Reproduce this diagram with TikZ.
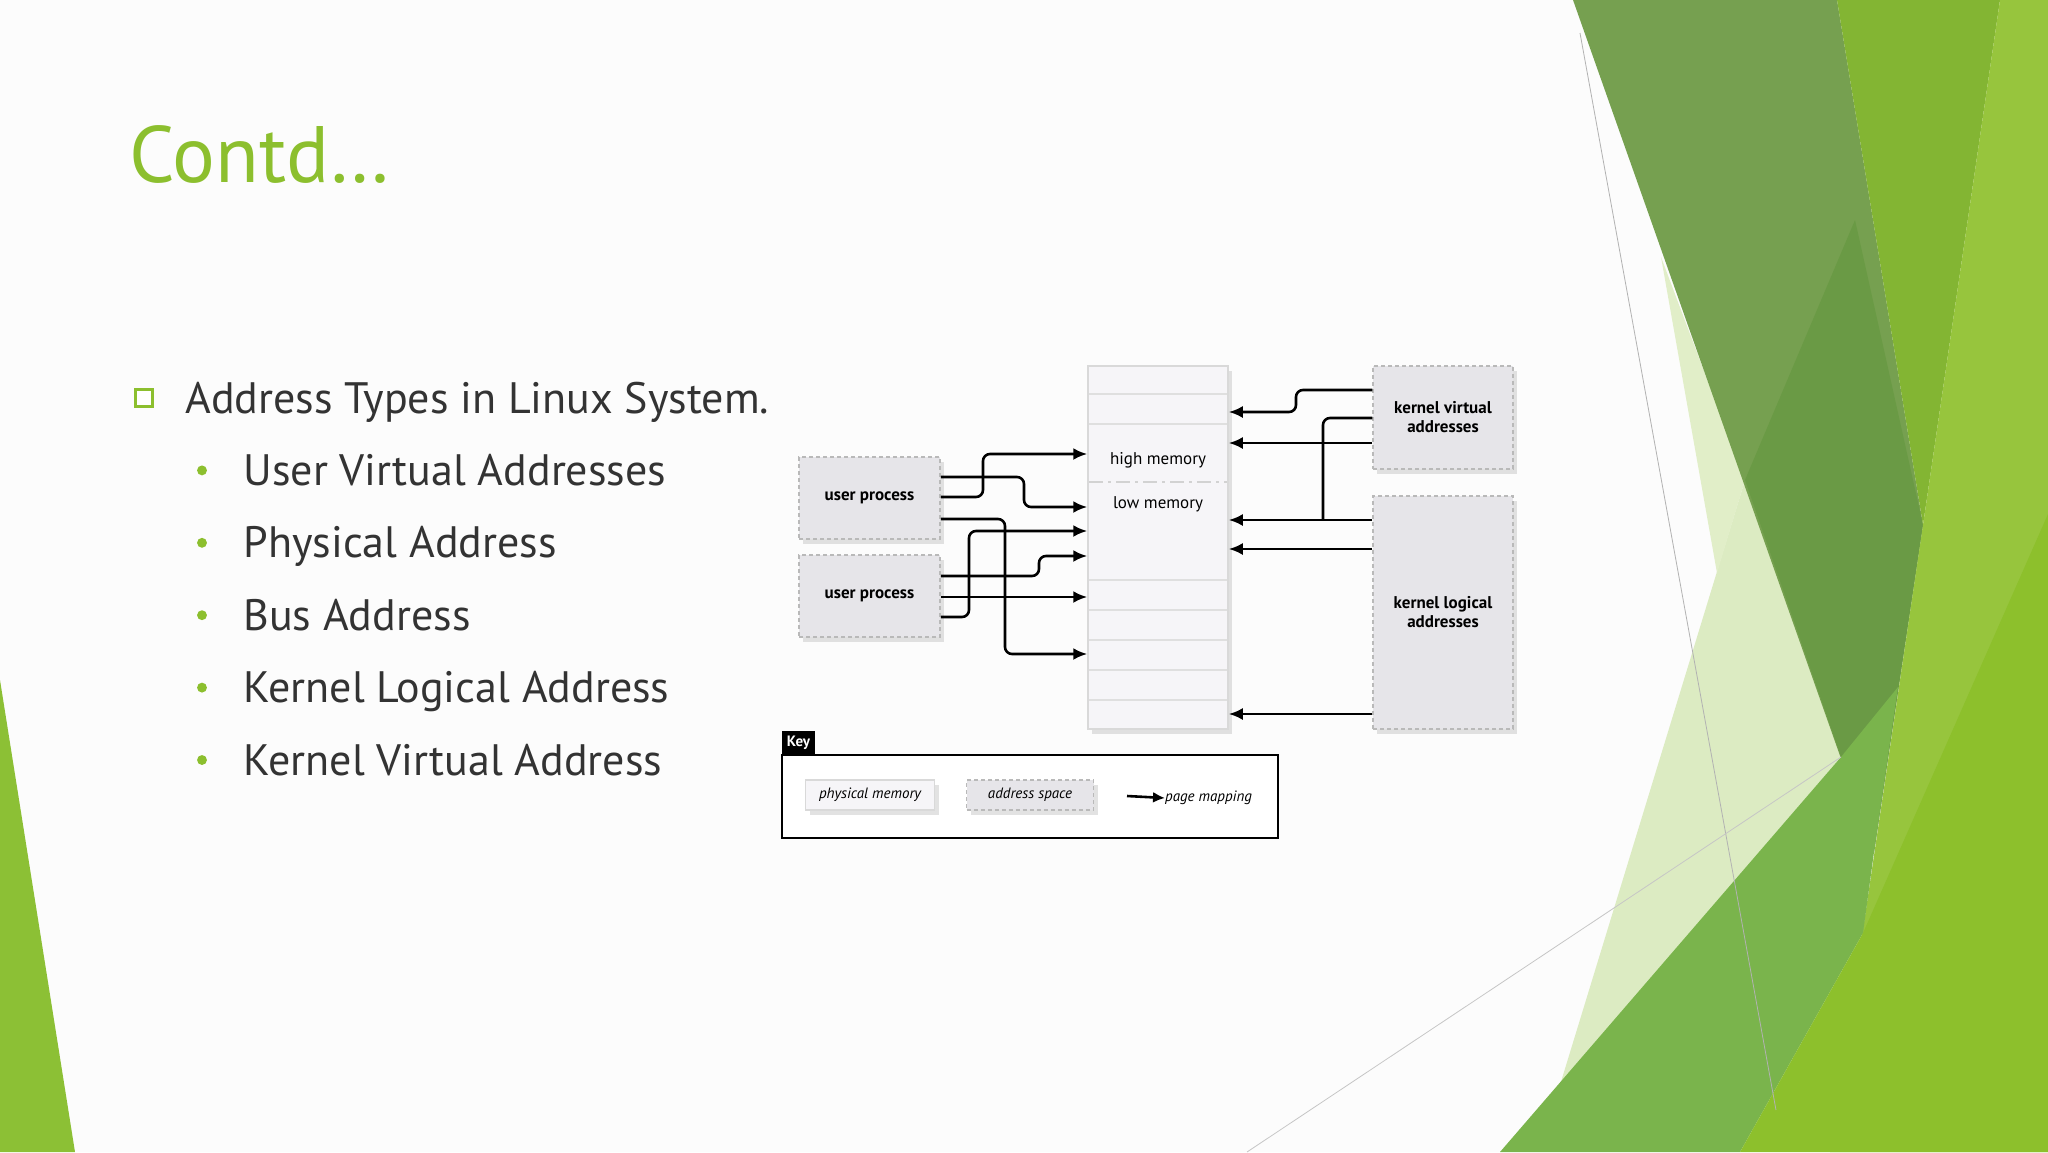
\documentclass[tikz,border=0pt]{standalone}
\usepackage{fontspec}
\setmainfont{PT Sans}
\usetikzlibrary{positioning, arrows.meta, shadows}
\definecolor{slidegreen}{HTML}{8CBF2E}
\definecolor{boxgray}{HTML}{E6E5E9}
\definecolor{memgray}{HTML}{F6F5F8}
\tikzset{
 physmem/.style={draw=gray!30, fill=memgray, line width=1.5pt,
   drop shadow={shadow xshift=4pt, shadow yshift=-5pt, fill=gray!45}},
 addrspace/.style={draw=gray!55, dashed, fill=boxgray, line width=1.5pt,
   dash pattern=on 4pt off 3pt,
   drop shadow={shadow xshift=4pt, shadow yshift=-5pt, fill=gray!45},
   font=\bfseries\fontsize{17}{19}\selectfont, align=center, inner sep=0pt},
 map/.style={line width=2.6pt, -{Latex[length=14pt,width=12pt]}, rounded corners=7pt},
 bullettext/.style={anchor=base west, font=\fontsize{44}{50}\selectfont, text=black!80},
}
\begin{document}
\begin{tikzpicture}[x=1pt, y=-1pt]
\useasboundingbox (0,0) rectangle (2048,1152);
\fill[white!98!gray] (0,0) rectangle (2048,1152);

% background shapes
\fill[color={rgb,255:red,140;green,192;blue,53}] (0,680) -- (0,1152) -- (75,1152) -- cycle;
\fill[color={rgb,255:red,220;green,235;blue,194}] (1560,1085) -- (1745,480) -- (1841,757) -- cycle;
\fill[color={rgb,255:red,225;green,238;blue,200}] (1661,257) -- (1717,573) -- (1745,480) -- cycle;
\fill[color={rgb,255:red,118;green,160;blue,80}] (1573,0) -- (1837,0) -- (1923,525) -- (1874,852) -- cycle;
\fill[color={rgb,255:red,106;green,154;blue,69}] (1745,480) -- (1855,220) -- (1923,525) -- (1874,852) -- cycle;
\fill[color={rgb,255:red,131;green,181;blue,51}] (1837,0) -- (2000,0) -- (1923,525) -- cycle;
\fill[color={rgb,255:red,151;green,197;blue,61}] (2000,0) -- (2048,0) -- (2048,1152) -- (1830,1152) -- (1923,525) -- cycle;
\fill[color={rgb,255:red,122;green,180;blue,76}] (1500,1152) -- (1841,757) -- (1898,687) -- (1874,852) -- (1863,933) -- (1740,1152) -- cycle;
\fill[color={rgb,255:red,141;green,192;blue,44}] (1740,1152) -- (1863,933) -- (2048,514) -- (2048,1152) -- cycle;
\draw[gray!60, line width=0.8pt] (1580,33) -- (1776,1110);
\draw[gray!45, line width=0.8pt] (1247,1152) -- (1841,757);

% slide text
\node[anchor=base west, text=slidegreen, font=\fontsize{80}{92}\selectfont] (title) at (126,182) {Contd…};
\node[draw=slidegreen, fill=white, line width=3pt, minimum size=17pt, inner sep=0pt] (sq) at (144,398) {};
\node[bullettext] (b0) at (182,413) {Address Types in Linux System.};
\foreach \t [count=\i] in {User Virtual Addresses, Physical Address, Bus Address,
  Kernel Logical Address, Kernel Virtual Address}{
  \node[circle, fill=slidegreen, inner sep=3.5pt] (d\i) at (202,398+72.4*\i) {};
  \node[bullettext] (s\i) at (240,413+72.4*\i) {\t};
}

% memory column
\node[physmem, minimum width=140pt, minimum height=363pt, inner sep=0pt] (mem) at (1158,547.5) {};
\foreach \y in {394,424,580,610,640,670,700}
  \draw[gray!25, line width=2pt] (1089,\y) -- (1227,\y);
\draw[gray!35, line width=2pt, dash pattern=on 14pt off 5pt on 3pt off 5pt] (1089,482) -- (1227,482);
\node[font=\fontsize{17}{19}\selectfont] (hi) at (1158,460) {high memory};
\node[font=\fontsize{17}{19}\selectfont] (lo) at (1158,504) {low memory};

% address spaces
\node[addrspace, minimum width=141pt, minimum height=82pt] (up1) at (869.5,498) {user process};
\node[addrspace, minimum width=141pt, minimum height=82pt] (up2) at (869.5,596) {user process};
\node[addrspace, minimum width=140pt, minimum height=103pt] (kv) at (1443,417.5) {kernel virtual\\addresses};
\node[addrspace, minimum width=140pt, minimum height=233pt] (kl) at (1443,612.5) {kernel logical\\addresses};

% user mappings
\draw[map] (up1.east |- 0,497) -- (983,497) -- (983,454) -- (mem.west |- 0,454);
\draw[map] (up1.east |- 0,477) -- (1024,477) -- (1024,507) -- (mem.west |- 0,507);
\draw[map] (up1.east |- 0,519) -- (1005,519) -- (1005,654) -- (mem.west |- 0,654);
\draw[map] (up2.east |- 0,617) -- (969,617) -- (969,531) -- (mem.west |- 0,531);
\draw[map] (up2.east |- 0,576) -- (1039,576) -- (1039,556) -- (mem.west |- 0,556);
\draw[map] (up2.east |- 0,597) -- (mem.west |- 0,597);

% kernel mappings
\draw[map] (kv.west |- 0,390) -- (1296,390) -- (1296,412) -- (mem.east |- 0,412);
\draw[map] (kv.west |- 0,443) -- (mem.east |- 0,443);
\draw[line width=2.6pt, rounded corners=7pt] (kv.west |- 0,418) -- (1323,418) -- (1323,520);
\draw[map] (kl.west |- 0,520) -- (mem.east |- 0,520);
\draw[map] (kl.west |- 0,549) -- (mem.east |- 0,549);
\draw[map] (kl.west |- 0,714) -- (mem.east |- 0,714);

% key
\node[draw=black, fill=white, line width=2.5pt, minimum width=496pt, minimum height=83pt, inner sep=0pt] (key) at (1030,796.5) {};
\node[fill=black, text=white, font=\bfseries\fontsize{15}{17}\selectfont, minimum width=33pt, minimum height=25pt, inner sep=0pt] (keytab) at (798.5,743) {Key};
\node[physmem, minimum width=129pt, minimum height=30pt, font=\itshape\fontsize{15}{17}\selectfont] (kphys) at (870,795) {physical memory};
\node[addrspace, minimum width=127pt, minimum height=30pt, font=\itshape\fontsize{15}{17}\selectfont] (kaddr) at (1030,795) {address space};
\coordinate (karr) at (1127,796);
\node[anchor=west, font=\itshape\fontsize{15}{17}\selectfont, inner sep=0pt] (kmap) at (1165,798) {page mapping};
\draw[line width=2.6pt, -{Latex[length=12pt,width=11pt]}] (karr) -- (kmap.west);
\end{tikzpicture}
\end{document}
